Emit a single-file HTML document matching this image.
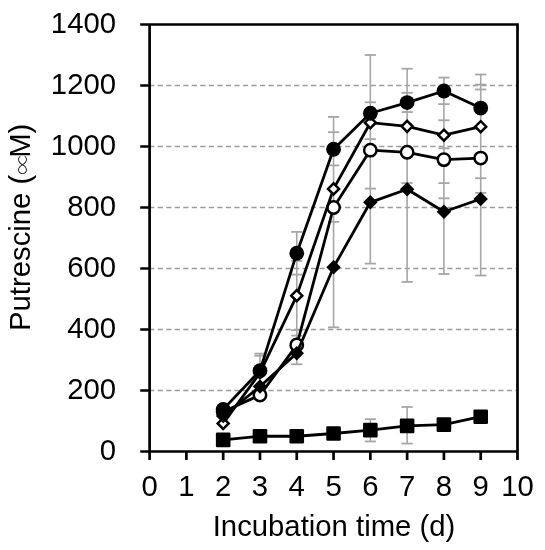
<!DOCTYPE html><html><head><meta charset="utf-8"><style>html,body{margin:0;padding:0;background:#fff;}svg{display:block;}text{font-family:"Liberation Sans","DejaVu Sans",Arial,sans-serif;fill:#000;}</style></head><body>
<svg width="545" height="550" viewBox="0 0 545 550">
<line x1="149.2" y1="390.50" x2="517.50" y2="390.50" stroke="#9c9c9c" stroke-width="1.7" stroke-dasharray="5.2 3.317"/>
<line x1="149.2" y1="329.50" x2="517.50" y2="329.50" stroke="#9c9c9c" stroke-width="1.7" stroke-dasharray="5.2 3.317"/>
<line x1="149.2" y1="268.50" x2="517.50" y2="268.50" stroke="#9c9c9c" stroke-width="1.7" stroke-dasharray="5.2 3.317"/>
<line x1="149.2" y1="207.50" x2="517.50" y2="207.50" stroke="#9c9c9c" stroke-width="1.7" stroke-dasharray="5.2 3.317"/>
<line x1="149.2" y1="146.50" x2="517.50" y2="146.50" stroke="#9c9c9c" stroke-width="1.7" stroke-dasharray="5.2 3.317"/>
<line x1="149.2" y1="85.50" x2="517.50" y2="85.50" stroke="#9c9c9c" stroke-width="1.7" stroke-dasharray="5.2 3.317"/>
<line x1="259.97" y1="353.60" x2="259.97" y2="370.68" stroke="#a6a6a6" stroke-width="1.6"/>
<line x1="254.37" y1="353.60" x2="265.57" y2="353.60" stroke="#a6a6a6" stroke-width="1.8"/>
<line x1="254.37" y1="355.73" x2="265.57" y2="355.73" stroke="#a6a6a6" stroke-width="1.8"/>
<line x1="296.76" y1="231.90" x2="296.76" y2="364.27" stroke="#a6a6a6" stroke-width="1.6"/>
<line x1="291.16" y1="231.90" x2="302.36" y2="231.90" stroke="#a6a6a6" stroke-width="1.8"/>
<line x1="291.16" y1="260.88" x2="302.36" y2="260.88" stroke="#a6a6a6" stroke-width="1.8"/>
<line x1="291.16" y1="274.60" x2="302.36" y2="274.60" stroke="#a6a6a6" stroke-width="1.8"/>
<line x1="291.16" y1="330.11" x2="302.36" y2="330.11" stroke="#a6a6a6" stroke-width="1.8"/>
<line x1="291.16" y1="335.60" x2="302.36" y2="335.60" stroke="#a6a6a6" stroke-width="1.8"/>
<line x1="291.16" y1="364.27" x2="302.36" y2="364.27" stroke="#a6a6a6" stroke-width="1.8"/>
<line x1="333.55" y1="116.92" x2="333.55" y2="327.37" stroke="#a6a6a6" stroke-width="1.6"/>
<line x1="327.95" y1="116.92" x2="339.15" y2="116.92" stroke="#a6a6a6" stroke-width="1.8"/>
<line x1="327.95" y1="132.17" x2="339.15" y2="132.17" stroke="#a6a6a6" stroke-width="1.8"/>
<line x1="327.95" y1="165.41" x2="339.15" y2="165.41" stroke="#a6a6a6" stroke-width="1.8"/>
<line x1="327.95" y1="221.84" x2="339.15" y2="221.84" stroke="#a6a6a6" stroke-width="1.8"/>
<line x1="327.95" y1="327.37" x2="339.15" y2="327.37" stroke="#a6a6a6" stroke-width="1.8"/>
<line x1="370.34" y1="55.00" x2="370.34" y2="263.62" stroke="#a6a6a6" stroke-width="1.6"/>
<line x1="364.74" y1="55.00" x2="375.94" y2="55.00" stroke="#a6a6a6" stroke-width="1.8"/>
<line x1="364.74" y1="102.28" x2="375.94" y2="102.28" stroke="#a6a6a6" stroke-width="1.8"/>
<line x1="364.74" y1="139.18" x2="375.94" y2="139.18" stroke="#a6a6a6" stroke-width="1.8"/>
<line x1="364.74" y1="188.59" x2="375.94" y2="188.59" stroke="#a6a6a6" stroke-width="1.8"/>
<line x1="364.74" y1="263.62" x2="375.94" y2="263.62" stroke="#a6a6a6" stroke-width="1.8"/>
<line x1="407.13" y1="68.73" x2="407.13" y2="281.92" stroke="#a6a6a6" stroke-width="1.6"/>
<line x1="401.53" y1="68.73" x2="412.73" y2="68.73" stroke="#a6a6a6" stroke-width="1.8"/>
<line x1="401.53" y1="92.82" x2="412.73" y2="92.82" stroke="#a6a6a6" stroke-width="1.8"/>
<line x1="401.53" y1="112.04" x2="412.73" y2="112.04" stroke="#a6a6a6" stroke-width="1.8"/>
<line x1="401.53" y1="183.10" x2="412.73" y2="183.10" stroke="#a6a6a6" stroke-width="1.8"/>
<line x1="401.53" y1="281.92" x2="412.73" y2="281.92" stroke="#a6a6a6" stroke-width="1.8"/>
<line x1="443.92" y1="77.57" x2="443.92" y2="273.99" stroke="#a6a6a6" stroke-width="1.6"/>
<line x1="438.32" y1="77.57" x2="449.52" y2="77.57" stroke="#a6a6a6" stroke-width="1.8"/>
<line x1="438.32" y1="104.11" x2="449.52" y2="104.11" stroke="#a6a6a6" stroke-width="1.8"/>
<line x1="438.32" y1="120.27" x2="449.52" y2="120.27" stroke="#a6a6a6" stroke-width="1.8"/>
<line x1="438.32" y1="148.33" x2="449.52" y2="148.33" stroke="#a6a6a6" stroke-width="1.8"/>
<line x1="438.32" y1="183.10" x2="449.52" y2="183.10" stroke="#a6a6a6" stroke-width="1.8"/>
<line x1="438.32" y1="198.35" x2="449.52" y2="198.35" stroke="#a6a6a6" stroke-width="1.8"/>
<line x1="438.32" y1="273.99" x2="449.52" y2="273.99" stroke="#a6a6a6" stroke-width="1.8"/>
<line x1="480.71" y1="74.52" x2="480.71" y2="275.51" stroke="#a6a6a6" stroke-width="1.6"/>
<line x1="475.11" y1="74.52" x2="486.31" y2="74.52" stroke="#a6a6a6" stroke-width="1.8"/>
<line x1="475.11" y1="84.59" x2="486.31" y2="84.59" stroke="#a6a6a6" stroke-width="1.8"/>
<line x1="475.11" y1="89.47" x2="486.31" y2="89.47" stroke="#a6a6a6" stroke-width="1.8"/>
<line x1="475.11" y1="178.22" x2="486.31" y2="178.22" stroke="#a6a6a6" stroke-width="1.8"/>
<line x1="475.11" y1="192.86" x2="486.31" y2="192.86" stroke="#a6a6a6" stroke-width="1.8"/>
<line x1="475.11" y1="275.51" x2="486.31" y2="275.51" stroke="#a6a6a6" stroke-width="1.8"/>
<line x1="370.34" y1="419.17" x2="370.34" y2="441.44" stroke="#a6a6a6" stroke-width="1.6"/>
<line x1="364.74" y1="419.17" x2="375.94" y2="419.17" stroke="#a6a6a6" stroke-width="1.8"/>
<line x1="364.74" y1="441.44" x2="375.94" y2="441.44" stroke="#a6a6a6" stroke-width="1.8"/>
<line x1="407.13" y1="406.97" x2="407.13" y2="443.57" stroke="#a6a6a6" stroke-width="1.6"/>
<line x1="401.53" y1="406.97" x2="412.73" y2="406.97" stroke="#a6a6a6" stroke-width="1.8"/>
<line x1="401.53" y1="443.57" x2="412.73" y2="443.57" stroke="#a6a6a6" stroke-width="1.8"/>
<path d="M140.20 24.50 H517.50 V459.90 M149.60 24.50 V459.90 M140.20 451.50 H517.50" fill="none" stroke="#000" stroke-width="2.7" stroke-linecap="butt" stroke-linejoin="miter"/>
<path d="M140.20 390.50 H149.60 M140.20 329.50 H149.60 M140.20 268.50 H149.60 M140.20 207.50 H149.60 M140.20 146.50 H149.60 M140.20 85.50 H149.60 M186.39 451.50 V459.90 M223.18 451.50 V459.90 M259.97 451.50 V459.90 M296.76 451.50 V459.90 M333.55 451.50 V459.90 M370.34 451.50 V459.90 M407.13 451.50 V459.90 M443.92 451.50 V459.90 M480.71 451.50 V459.90" stroke="#000" stroke-width="2.7" fill="none"/>
<polyline points="223.18,439.91 259.97,436.25 296.76,436.25 333.55,433.50 370.34,430.15 407.13,425.88 443.92,424.66 480.71,416.73" fill="none" stroke="#000" stroke-width="2.8" stroke-linejoin="round"/>
<rect x="215.88" y="432.61" width="14.60" height="14.60" rx="1.2" fill="#000"/>
<rect x="252.67" y="428.95" width="14.60" height="14.60" rx="1.2" fill="#000"/>
<rect x="289.46" y="428.95" width="14.60" height="14.60" rx="1.2" fill="#000"/>
<rect x="326.25" y="426.20" width="14.60" height="14.60" rx="1.2" fill="#000"/>
<rect x="363.04" y="422.85" width="14.60" height="14.60" rx="1.2" fill="#000"/>
<rect x="399.83" y="418.58" width="14.60" height="14.60" rx="1.2" fill="#000"/>
<rect x="436.62" y="417.36" width="14.60" height="14.60" rx="1.2" fill="#000"/>
<rect x="473.41" y="409.43" width="14.60" height="14.60" rx="1.2" fill="#000"/>
<polyline points="223.18,411.85 259.97,395.07 296.76,345.06 333.55,207.50 370.34,150.16 407.13,152.30 443.92,159.62 480.71,158.09" fill="none" stroke="#000" stroke-width="2.8" stroke-linejoin="round"/>
<circle cx="223.18" cy="411.85" r="6.2" fill="#fff" stroke="#000" stroke-width="2.5"/>
<circle cx="259.97" cy="395.07" r="6.2" fill="#fff" stroke="#000" stroke-width="2.5"/>
<circle cx="296.76" cy="345.06" r="6.2" fill="#fff" stroke="#000" stroke-width="2.5"/>
<circle cx="333.55" cy="207.50" r="6.2" fill="#fff" stroke="#000" stroke-width="2.5"/>
<circle cx="370.34" cy="150.16" r="6.2" fill="#fff" stroke="#000" stroke-width="2.5"/>
<circle cx="407.13" cy="152.30" r="6.2" fill="#fff" stroke="#000" stroke-width="2.5"/>
<circle cx="443.92" cy="159.62" r="6.2" fill="#fff" stroke="#000" stroke-width="2.5"/>
<circle cx="480.71" cy="158.09" r="6.2" fill="#fff" stroke="#000" stroke-width="2.5"/>
<polyline points="223.18,423.44 259.97,372.81 296.76,295.64 333.55,188.89 370.34,122.71 407.13,126.37 443.92,135.22 480.71,126.68" fill="none" stroke="#000" stroke-width="2.8" stroke-linejoin="round"/>
<path d="M223.18 417.94 L228.68 423.44 L223.18 428.94 L217.68 423.44Z" fill="#fff" stroke="#000" stroke-width="2.5"/>
<path d="M259.97 367.31 L265.47 372.81 L259.97 378.31 L254.47 372.81Z" fill="#fff" stroke="#000" stroke-width="2.5"/>
<path d="M296.76 290.14 L302.26 295.64 L296.76 301.14 L291.26 295.64Z" fill="#fff" stroke="#000" stroke-width="2.5"/>
<path d="M333.55 183.39 L339.05 188.89 L333.55 194.39 L328.05 188.89Z" fill="#fff" stroke="#000" stroke-width="2.5"/>
<path d="M370.34 117.21 L375.84 122.71 L370.34 128.21 L364.84 122.71Z" fill="#fff" stroke="#000" stroke-width="2.5"/>
<path d="M407.13 120.87 L412.63 126.37 L407.13 131.87 L401.63 126.37Z" fill="#fff" stroke="#000" stroke-width="2.5"/>
<path d="M443.92 129.72 L449.42 135.22 L443.92 140.72 L438.42 135.22Z" fill="#fff" stroke="#000" stroke-width="2.5"/>
<path d="M480.71 121.18 L486.21 126.68 L480.71 132.18 L475.21 126.68Z" fill="#fff" stroke="#000" stroke-width="2.5"/>
<polyline points="223.18,416.12 259.97,386.53 296.76,353.29 333.55,267.28 370.34,202.31 407.13,189.20 443.92,211.77 480.71,198.96" fill="none" stroke="#000" stroke-width="2.8" stroke-linejoin="round"/>
<path d="M223.18 408.87 L230.43 416.12 L223.18 423.37 L215.93 416.12Z" fill="#000"/>
<path d="M259.97 379.28 L267.22 386.53 L259.97 393.78 L252.72 386.53Z" fill="#000"/>
<path d="M296.76 346.04 L304.01 353.29 L296.76 360.54 L289.51 353.29Z" fill="#000"/>
<path d="M333.55 260.03 L340.80 267.28 L333.55 274.53 L326.30 267.28Z" fill="#000"/>
<path d="M370.34 195.06 L377.59 202.31 L370.34 209.56 L363.09 202.31Z" fill="#000"/>
<path d="M407.13 181.95 L414.38 189.20 L407.13 196.45 L399.88 189.20Z" fill="#000"/>
<path d="M443.92 204.52 L451.17 211.77 L443.92 219.02 L436.67 211.77Z" fill="#000"/>
<path d="M480.71 191.71 L487.96 198.96 L480.71 206.21 L473.46 198.96Z" fill="#000"/>
<polyline points="223.18,409.41 259.97,370.68 296.76,253.25 333.55,149.25 370.34,113.25 407.13,102.58 443.92,90.99 480.71,108.07" fill="none" stroke="#000" stroke-width="2.8" stroke-linejoin="round"/>
<circle cx="223.18" cy="409.41" r="7.4" fill="#000"/>
<circle cx="259.97" cy="370.68" r="7.4" fill="#000"/>
<circle cx="296.76" cy="253.25" r="7.4" fill="#000"/>
<circle cx="333.55" cy="149.25" r="7.4" fill="#000"/>
<circle cx="370.34" cy="113.25" r="7.4" fill="#000"/>
<circle cx="407.13" cy="102.58" r="7.4" fill="#000"/>
<circle cx="443.92" cy="90.99" r="7.4" fill="#000"/>
<circle cx="480.71" cy="108.07" r="7.4" fill="#000"/>
<text transform="translate(116,460.45) scale(1,1.02)" font-size="29.3" text-anchor="end">0</text>
<text transform="translate(116,399.45) scale(1,1.02)" font-size="29.3" text-anchor="end">200</text>
<text transform="translate(116,338.45) scale(1,1.02)" font-size="29.3" text-anchor="end">400</text>
<text transform="translate(116,277.45) scale(1,1.02)" font-size="29.3" text-anchor="end">600</text>
<text transform="translate(116,216.45) scale(1,1.02)" font-size="29.3" text-anchor="end">800</text>
<text transform="translate(116,155.45) scale(1,1.02)" font-size="29.3" text-anchor="end">1000</text>
<text transform="translate(116,94.45) scale(1,1.02)" font-size="29.3" text-anchor="end">1200</text>
<text transform="translate(116,33.45) scale(1,1.02)" font-size="29.3" text-anchor="end">1400</text>
<text transform="translate(149.60,495.8) scale(1,1.02)" font-size="29.3" text-anchor="middle">0</text>
<text transform="translate(186.39,495.8) scale(1,1.02)" font-size="29.3" text-anchor="middle">1</text>
<text transform="translate(223.18,495.8) scale(1,1.02)" font-size="29.3" text-anchor="middle">2</text>
<text transform="translate(259.97,495.8) scale(1,1.02)" font-size="29.3" text-anchor="middle">3</text>
<text transform="translate(296.76,495.8) scale(1,1.02)" font-size="29.3" text-anchor="middle">4</text>
<text transform="translate(333.55,495.8) scale(1,1.02)" font-size="29.3" text-anchor="middle">5</text>
<text transform="translate(370.34,495.8) scale(1,1.02)" font-size="29.3" text-anchor="middle">6</text>
<text transform="translate(407.13,495.8) scale(1,1.02)" font-size="29.3" text-anchor="middle">7</text>
<text transform="translate(443.92,495.8) scale(1,1.02)" font-size="29.3" text-anchor="middle">8</text>
<text transform="translate(480.71,495.8) scale(1,1.02)" font-size="29.3" text-anchor="middle">9</text>
<text transform="translate(517.50,495.8) scale(1,1.02)" font-size="29.3" text-anchor="middle">10</text>
<text transform="translate(334,535.7) scale(1,1.02)" font-size="29.3" text-anchor="middle">Incubation time (d)</text>
<text transform="translate(30,331) rotate(-90) scale(1,1.02)" font-size="29.3">Putrescine (<tspan style="font-family:'Noto Serif CJK SC',serif;font-size:19.4px">∝</tspan><tspan dx="-2.5">M)</tspan></text>
</svg></body></html>
